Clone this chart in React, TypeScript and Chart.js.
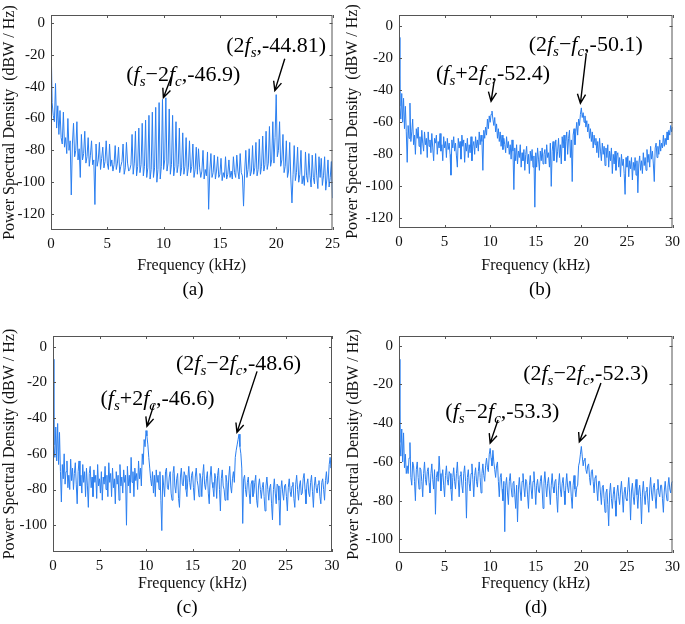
import React, { useEffect, useRef } from "react";
import { Chart, registerables } from "chart.js";

Chart.register(...registerables);

// frequency bins of every spectrum below are spaced this far apart (kHz)
const FREQ_STEP_KHZ = 0.1;

// (a) 0 - 25 kHz, dBW/Hz, one row per kHz
const psdA = [
  -8, -50, -58, -62, -38, -66, -52, -70, -55, -72,
  -76, -56, -78, -72, -82, -60, -80, -74, -108, -76,
  -63, -84, -80, -62, -86, -79, -97, -70, -86, -82,
  -68, -88, -84, -72, -90, -83, -74, -89, -86, -114,
  -76, -90, -86, -75, -92, -85, -78, -91, -87, -74,
  -88, -92, -76, -90, -86, -93, -89, -77, -92, -88,
  -78, -94, -90, -87, -76, -95, -91, -75, -88, -93,
  -92, -89, -70, -95, -88, -68, -96, -90, -66, -94,
  -89, -63, -96, -90, -61, -97, -91, -58, -98, -92,
  -56, -97, -91, -53, -100, -92, -50, -98, -90, -48,
  -92, -86, -47, -93, -88, -54, -95, -89, -58, -96,
  -90, -62, -94, -89, -66, -96, -91, -69, -95, -90,
  -72, -96, -91, -74, -94, -90, -76, -97, -92, -78,
  -95, -79, -91, -97, -93, -80, -98, -92, -96, -81,
  -117, -93, -82, -97, -94, -83, -98, -93, -84, -97,
  -95, -85, -99, -94, -97, -84, -98, -95, -86, -97,
  -93, -98, -84, -94, -97, -83, -93, -98, -82, -94,
  -96, -115, -93, -80, -97, -92, -79, -96, -93, -77,
  -95, -91, -75, -96, -92, -73, -95, -90, -71, -93,
  -89, -68, -92, -88, -65, -90, -86, -62, -88, -72,
  -45, -84, -80, -62, -90, -86, -70, -94, -90, -74,
  -97, -93, -75, -98, -113, -95, -77, -99, -94, -78,
  -100, -95, -80, -101, -96, -102, -81, -96, -100, -82,
  -96, -103, -83, -97, -101, -82, -96, -104, -84, -97,
  -85, -102, -96, -84, -105, -98, -86, -103, -97, -87,
  -110,
];

// (b) 0 - 30 kHz
const psdB = [
  -7, -50, -58, -42, -60, -45, -64, -50, -66, -85,
  -62, -70, -48, -72, -66, -58, -74, -68, -80, -64,
  -70, -63, -75, -69, -80, -65, -73, -78, -66, -74,
  -70, -82, -66, -75, -71, -79, -67, -76, -84, -70,
  -73, -68, -80, -72, -76, -67, -78, -74, -84, -69,
  -76, -72, -82, -70, -77, -73, -80, -93, -71, -76,
  -69, -78, -73, -81, -88, -70, -76, -72, -83, -68,
  -75, -71, -85, -73, -78, -70, -82, -74, -79, -69,
  -84, -75, -72, -80, -69, -76, -71, -78, -66, -74,
  -68, -72, -90, -65, -70, -63, -68, -58, -64, -56,
  -60, -55, -53, -58, -62, -57, -66, -61, -70, -64,
  -72, -66, -75, -68, -77, -70, -74, -79, -69, -76,
  -72, -80, -74, -83, -71, -78, -102, -76, -84, -74,
  -86, -78, -82, -74, -88, -79, -84, -77, -90, -80,
  -75, -86, -80, -92, -78, -84, -77, -88, -81, -113,
  -79, -88, -76, -83, -90, -78, -84, -76, -86, -80,
  -77, -86, -74, -82, -79, -88, -73, -100, -78, -72,
  -84, -76, -71, -85, -78, -70, -82, -74, -86, -69,
  -76, -68, -84, -72, -66, -80, -70, -65, -82, -71,
  -97, -68, -64, -74, -66, -60, -68, -58, -62, -55,
  -51, -57, -54, -60, -56, -63, -59, -66, -61, -70,
  -64, -72, -66, -76, -68, -74, -70, -79, -72, -82,
  -70, -78, -84, -73, -80, -75, -87, -76, -82, -74,
  -88, -78, -84, -76, -92, -80, -86, -78, -90, -81,
  -79, -88, -82, -94, -80, -87, -83, -92, -105, -82,
  -88, -81, -94, -84, -89, -82, -96, -85, -90, -82,
  -93, -84, -104, -86, -81, -90, -84, -92, -79, -87,
  -82, -90, -77, -85, -80, -88, -75, -83, -78, -86,
  -97, -76, -73, -82, -75, -80, -71, -78, -73, -76,
  -68, -75, -70, -74, -66, -71, -65, -68, -62, -66,
  -63,
];

// (c) 0 - 30 kHz
const psdC = [
  -7, -55, -62, -45, -64, -43, -66, -48, -70, -87,
  -66, -74, -60, -77, -70, -64, -79, -72, -80, -63,
  -75, -68, -80, -71, -65, -77, -88, -70, -64, -78,
  -72, -82, -66, -76, -70, -84, -68, -78, -90, -71,
  -67, -79, -73, -84, -69, -76, -72, -85, -66, -78,
  -74, -82, -70, -86, -73, -77, -67, -80, -72, -84,
  -65, -76, -71, -84, -68, -79, -74, -88, -70, -77,
  -72, -86, -66, -78, -73, -82, -69, -76, -72, -100,
  -67, -78, -72, -82, -62, -76, -70, -84, -68, -75,
  -71, -80, -64, -74, -68, -78, -60, -66, -52, -56,
  -47, -50, -55, -62, -68, -74, -78, -70, -82, -72,
  -84, -69, -76, -72, -80, -70, -86, -103, -72, -78,
  -84, -70, -68, -79, -80, -73, -70, -82, -86, -71,
  -67, -78, -82, -74, -71, -85, -90, -73, -68, -77,
  -78, -70, -72, -80, -84, -74, -67, -76, -80, -72,
  -70, -79, -86, -73, -68, -75, -78, -84, -71, -74,
  -84, -72, -66, -77, -80, -74, -70, -82, -88, -73,
  -67, -76, -79, -84, -71, -74, -85, -72, -68, -80,
  -92, -74, -69, -78, -80, -86, -72, -76, -86, -73,
  -67, -78, -82, -74, -70, -76, -62, -58, -55, -52,
  -49, -56, -60, -68, -99, -74, -72, -80, -84, -76,
  -73, -82, -88, -77, -75, -84, -82, -76, -72, -86,
  -90, -78, -74, -80, -85, -79, -76, -84, -92, -78,
  -73, -80, -86, -79, -77, -88, -97, -80, -74, -82,
  -88, -77, -78, -86, -100, -80, -75, -82, -86, -78,
  -77, -84, -92, -79, -74, -81, -84, -78, -76, -85,
  -90, -77, -72, -80, -86, -78, -75, -83, -82, -74,
  -71, -80, -88, -77, -74, -82, -84, -76, -72, -81,
  -90, -78, -73, -79, -82, -77, -75, -84, -88, -76,
  -74, -80, -86, -75, -70, -77, -76, -66, -62, -68,
  -58,
];

// (d) 0 - 30 kHz
const psdD = [
  -7, -50, -57, -43, -60, -45, -63, -56, -66, -62,
  -66, -58, -50, -68, -72, -60, -62, -70, -80, -64,
  -60, -68, -74, -63, -64, -70, -78, -66, -60, -69,
  -72, -65, -63, -71, -76, -66, -61, -69, -74, -64,
  -87, -68, -65, -70, -57, -66, -75, -68, -64, -72,
  -78, -67, -62, -69, -72, -65, -66, -74, -80, -68,
  -63, -70, -74, -66, -60, -69, -78, -67, -65, -72,
  -76, -66, -62, -70, -89, -68, -64, -71, -75, -66,
  -61, -69, -78, -67, -63, -70, -73, -65, -60, -68,
  -76, -66, -61, -67, -70, -62, -58, -63, -65, -56,
  -53, -58, -62, -54, -60, -64, -68, -62, -60, -70,
  -78, -68, -66, -74, -80, -70, -96, -72, -68, -76,
  -82, -70, -66, -73, -78, -71, -70, -77, -84, -72,
  -91, -74, -68, -75, -80, -70, -66, -73, -78, -69,
  -70, -77, -84, -72, -67, -74, -79, -70, -65, -73,
  -82, -72, -69, -75, -76, -70, -67, -74, -84, -71,
  -65, -72, -78, -71, -68, -75, -82, -72, -66, -73,
  -76, -70, -69, -78, -86, -72, -66, -74, -78, -71,
  -68, -75, -82, -72, -66, -73, -76, -70, -70, -78,
  -84, -72, -67, -74, -78, -73, -72, -62, -60, -56,
  -52, -57, -62, -59, -58, -64, -66, -62, -61, -68,
  -72, -65, -64, -70, -76, -68, -67, -74, -80, -70,
  -70, -76, -82, -73, -72, -79, -86, -76, -74, -82,
  -93, -76, -71, -79, -84, -77, -73, -80, -88, -76,
  -72, -78, -82, -75, -70, -77, -86, -76, -73, -79,
  -80, -74, -68, -76, -90, -75, -71, -78, -82, -74,
  -69, -77, -84, -75, -72, -78, -92, -76, -70, -77,
  -82, -75, -73, -80, -86, -74, -68, -76, -80, -73,
  -71, -78, -84, -74, -69, -76, -78, -72, -72, -79,
  -86, -75, -70, -76, -80, -73, -68, -74, -76, -71,
  -70,
];

// peak call-outs: label centre (tx, ty), arrow tail (ax, ay) and tip (bx, by), in kHz / dB
// "f" is set in italics and "_x" makes x a subscript
const notesA = [
  { text: "(f_s\u22122f_c,-46.9)", tx: 11.75, ty: -31.9, ax: 10.69, ay: -33.8, bx: 9.98, by: -46.9 },
  { text: "(2f_s,-44.81)", tx: 20.0, ty: -13.8, ax: 20.76, ay: -22.5, bx: 19.88, by: -42.5 },
];
const notesB = [
  { text: "(f_s+2f_c,-52.4)", tx: 10.32, ty: -29.0, ax: 10.43, ay: -34.6, bx: 10.1, by: -46.9 },
  { text: "(2f_s\u2212f_c,-50.1)", tx: 20.48, ty: -11.1, ax: 20.54, ay: -17.3, bx: 19.9, by: -48.1 },
];
const notesC = [
  { text: "(f_s+2f_c,-46.6)", tx: 11.24, ty: -28.4, ax: 10.86, ay: -32.3, bx: 10.1, by: -44.6 },
  { text: "(2f_s\u22122f_c,-48.6)", tx: 19.95, ty: -8.8, ax: 21.94, ay: -13.8, bx: 19.78, by: -48 },
];
const notesD = [
  { text: "(f_s\u22122f_c,-53.3)", tx: 11.34, ty: -33.7, ax: 10.86, ay: -38.4, bx: 10.0, by: -50.3 },
  { text: "(2f_s\u22122f_c,-52.3)", tx: 20.48, ty: -14.1, ax: 22.15, ay: -19.3, bx: 19.78, by: -49.7 },
];

const SERIF = '"Liberation Serif", "Times New Roman", serif';
const LINE_BLUE = "#2b7ff0";
const BOX_W = 345;
const BOX_H = 312;

type Note = { text: string; tx: number; ty: number; ax: number; ay: number; bx: number; by: number };

interface PanelSpec {
  caption: string;
  psd: number[];
  notes: Note[];
  xMax: number;
  yMin: number;
  yMax: number;
  left: number;
  top: number;
  area: { l: number; r: number; t: number; b: number };
  yTitle: string;
  yTitlePad: number;
  xTitlePad: number;
  capX: number;
  capY: number;
}

const panels: PanelSpec[] = [
  {
    caption: "(a)", psd: psdA, notes: notesA, xMax: 25, yMin: -130, yMax: 5,
    left: 0, top: 0, area: { l: 51, r: 334, t: 13, b: 230 },
    yTitle: "Power Spectral Density  (dBW / Hz)", yTitlePad: 0, xTitlePad: 37, capX: 193, capY: 290,
  },
  {
    caption: "(b)", psd: psdB, notes: notesB, xMax: 30, yMin: -126, yMax: 7,
    left: 340, top: 0, area: { l: 59, r: 338, t: 13, b: 228 },
    yTitle: "Power Spectral Density  (dBW / Hz)", yTitlePad: 3, xTitlePad: 37, capX: 200, capY: 290,
  },
  {
    caption: "(c)", psd: psdC, notes: notesC, xMax: 30, yMin: -115, yMax: 6,
    left: 0, top: 312, area: { l: 53, r: 332, t: 24, b: 240 },
    yTitle: "Power Spectral Density (dBW / Hz)", yTitlePad: 0, xTitlePad: 31, capX: 187, capY: 296,
  },
  {
    caption: "(d)", psd: psdD, notes: notesD, xMax: 30, yMin: -107, yMax: 5,
    left: 340, top: 312, area: { l: 59, r: 338, t: 24, b: 241 },
    yTitle: "Power Spectral Density (dBW / Hz)", yTitlePad: 4, xTitlePad: 31, capX: 196, capY: 296,
  },
];

function drawRich(ctx: CanvasRenderingContext2D, text: string, cx: number, cy: number, size: number) {
  const runs: { s: string; italic: boolean; sub: boolean }[] = [];
  for (let i = 0; i < text.length; i++) {
    const ch = text[i];
    if (ch === "_") {
      runs.push({ s: text[i + 1], italic: true, sub: true });
      i++;
    } else {
      runs.push({ s: ch, italic: ch === "f", sub: false });
    }
  }
  const fontOf = (r: { italic: boolean; sub: boolean }) =>
    `${r.italic ? "italic " : ""}${r.sub ? Math.round(size * 0.7) : size}px ${SERIF}`;
  let total = 0;
  const widths = runs.map((r) => {
    ctx.font = fontOf(r);
    const w = ctx.measureText(r.s).width;
    total += w;
    return w;
  });
  let x = cx - total / 2;
  const base = cy + size * 0.33;
  ctx.textAlign = "left";
  ctx.textBaseline = "alphabetic";
  runs.forEach((r, i) => {
    ctx.font = fontOf(r);
    ctx.fillText(r.s, x, r.sub ? base + size * 0.22 : base);
    x += widths[i];
  });
}

function drawArrow(ctx: CanvasRenderingContext2D, x0: number, y0: number, x1: number, y1: number) {
  const ang = Math.atan2(y1 - y0, x1 - x0);
  const head = 10;
  ctx.beginPath();
  ctx.moveTo(x0, y0);
  ctx.lineTo(x1, y1);
  ctx.moveTo(x1 - head * Math.cos(ang - 0.42), y1 - head * Math.sin(ang - 0.42));
  ctx.lineTo(x1, y1);
  ctx.lineTo(x1 - head * Math.cos(ang + 0.42), y1 - head * Math.sin(ang + 0.42));
  ctx.stroke();
}

function makeDecor(spec: PanelSpec) {
  return {
    id: "panelDecor",
    afterDraw(chart: Chart) {
      const { ctx, chartArea: a } = chart;
      const xs = chart.scales.x;
      const ys = chart.scales.y;
      ctx.save();
      // axes box with inward ticks
      ctx.strokeStyle = "#555";
      ctx.lineWidth = 1;
      ctx.strokeRect(a.left + 0.5, a.top + 0.5, a.right - a.left - 1, a.bottom - a.top - 1);
      ctx.beginPath();
      xs.ticks.forEach((t) => {
        const px = Math.round(xs.getPixelForValue(t.value)) + 0.5;
        ctx.moveTo(px, a.bottom);
        ctx.lineTo(px, a.bottom - 3);
        ctx.moveTo(px, a.top);
        ctx.lineTo(px, a.top + 3);
      });
      ys.ticks.forEach((t) => {
        const py = Math.round(ys.getPixelForValue(t.value)) + 0.5;
        ctx.moveTo(a.left, py);
        ctx.lineTo(a.left + 3, py);
        ctx.moveTo(a.right, py);
        ctx.lineTo(a.right - 3, py);
      });
      ctx.stroke();
      // call-outs
      ctx.fillStyle = "#000";
      ctx.strokeStyle = "#000";
      ctx.lineWidth = 1.4;
      spec.notes.forEach((n) => {
        drawArrow(
          ctx,
          xs.getPixelForValue(n.ax), ys.getPixelForValue(n.ay),
          xs.getPixelForValue(n.bx), ys.getPixelForValue(n.by)
        );
        drawRich(ctx, n.text, xs.getPixelForValue(n.tx), ys.getPixelForValue(n.ty), 22);
      });
      // sub-figure caption
      ctx.font = `19px ${SERIF}`;
      ctx.textAlign = "center";
      ctx.textBaseline = "middle";
      ctx.fillText(spec.caption, spec.capX, spec.capY);
      ctx.restore();
    },
  };
}

const Panel = ({ spec }: { spec: PanelSpec }) => {
  const canvasRef = useRef<HTMLCanvasElement | null>(null);
  const chartRef = useRef<Chart | null>(null);

  useEffect(() => {
    if (chartRef.current) chartRef.current.destroy();
    const ctx = canvasRef.current?.getContext("2d");
    if (!ctx) return;
    const { area } = spec;
    chartRef.current = new Chart(ctx, {
      type: "line",
      data: {
        datasets: [
          {
            data: spec.psd.map((v, i) => ({ x: i * FREQ_STEP_KHZ, y: v })),
            borderColor: LINE_BLUE,
            borderWidth: 1,
            pointRadius: 0,
            tension: 0,
          },
        ],
      },
      options: {
        animation: false,
        responsive: false,
        events: [],
        layout: { padding: { left: 0, right: BOX_W - area.r, top: area.t, bottom: 0 } },
        plugins: { legend: { display: false }, tooltip: { enabled: false } },
        scales: {
          x: {
            type: "linear",
            min: 0,
            max: spec.xMax,
            afterFit: (s: any) => { s.height = BOX_H - area.b; },
            grid: { display: false, drawTicks: false },
            border: { display: false },
            ticks: {
              stepSize: 5, padding: 5, autoSkip: false, maxRotation: 0, includeBounds: false,
              color: "#111", font: { family: SERIF, size: 15 },
            },
            title: {
              display: true, text: "Frequency (kHz)", color: "#111",
              font: { family: SERIF, size: 16 }, padding: { top: 0, bottom: spec.xTitlePad },
            },
          },
          y: {
            type: "linear",
            min: spec.yMin,
            max: spec.yMax,
            afterFit: (s: any) => { s.width = area.l; },
            grid: { display: false, drawTicks: false },
            border: { display: false },
            ticks: {
              stepSize: 20, padding: 6, includeBounds: false,
              color: "#111", font: { family: SERIF, size: 15 },
            },
            title: {
              display: true, text: spec.yTitle, color: "#111",
              font: { family: SERIF, size: 16 }, padding: { top: spec.yTitlePad, bottom: 0 },
            },
          },
        },
      },
      plugins: [makeDecor(spec)],
    });
    return () => {
      if (chartRef.current) {
        chartRef.current.destroy();
        chartRef.current = null;
      }
    };
  }, [spec]);

  return (
    <div style={{ position: "absolute", left: spec.left, top: spec.top, width: BOX_W, height: BOX_H }}>
      <canvas ref={canvasRef} width={BOX_W} height={BOX_H} />
    </div>
  );
};

export default function App() {
  return (
    <div style={{ position: "absolute", left: 0, top: 0, width: 685, height: 624, background: "#fff" }}>
      {panels.map((p) => (
        <Panel key={p.caption} spec={p} />
      ))}
    </div>
  );
}
